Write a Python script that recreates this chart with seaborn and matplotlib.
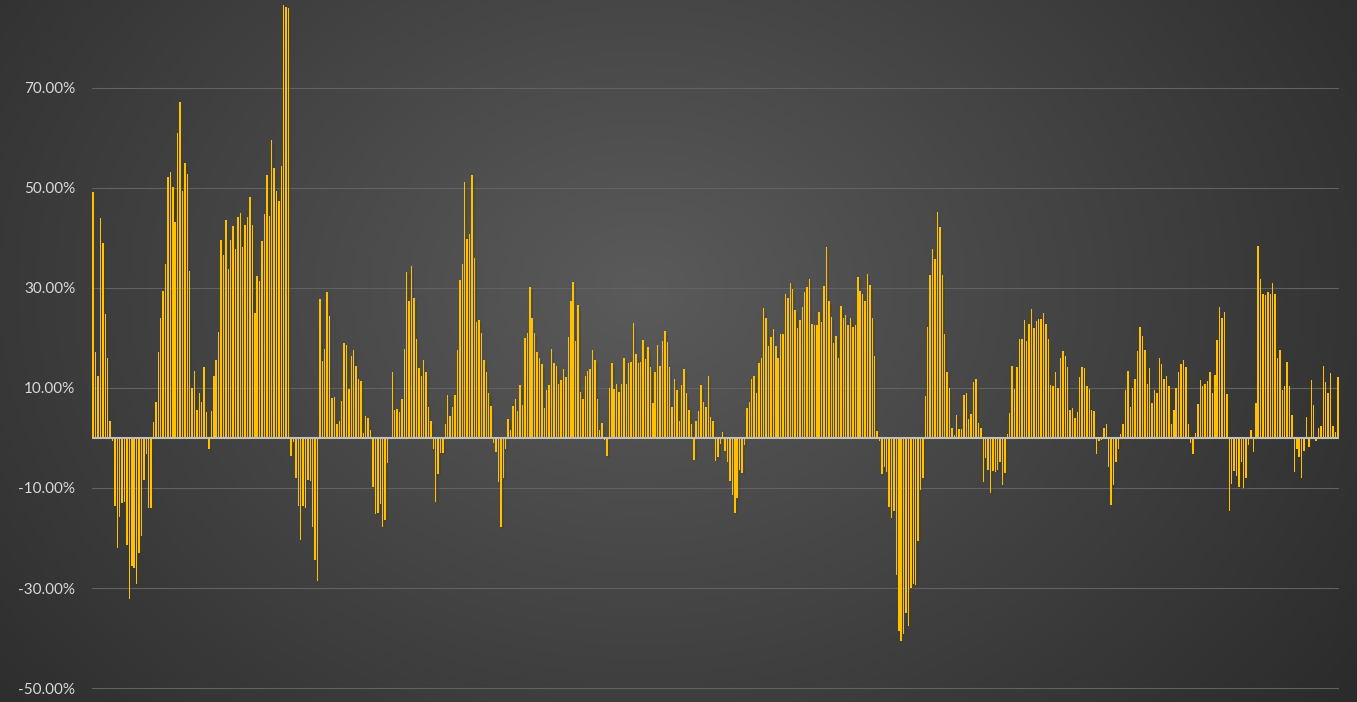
import numpy as np
import pandas as pd
import matplotlib
matplotlib.use("Agg")
import matplotlib.pyplot as plt
import matplotlib.patheffects as pe
import seaborn as sns

# ---------------------------------------------------------------
# Data: period-over-period change (%) left to right
# ---------------------------------------------------------------
seg_1 = [49.1, 17.1, 12.4, 43.9, 39.0, 24.7, 15.9, 3.4, -0.7, -13.7, -21.9, -15.7, -13.1, -12.8,
         -21.4, -32.2, -25.6, -25.9, -29.1, -22.9, -19.5, -8.4, -3.3, -14.1, -14.1, 3.2, 7.2, 17.1,
         23.9, 29.4, 34.8, 52.1, 53.1, 50.1, 43.2, 60.9, 67.2, 49.3, 54.9, 52.7, 33.3, 10.0]
seg_2 = [13.4, 5.6, 9.0, 7.2, 14.2, 5.2, -2.3, 5.4, 12.3, 15.5, 21.1, 39.6, 36.6, 43.6, 33.8,
         39.6, 42.3, 37.8, 44.2, 45.0, 38.2, 42.6, 44.1, 48.1, 42.6, 25.0, 32.3, 31.4, 39.4, 44.7,
         52.5, 44.4, 59.5, 53.9, 49.3, 47.3, 54.3, 86.5, 86.1, 85.9, -3.6, -0.9, -8.0]
seg_3 = [-13.6, -20.3, -13.6, -14.1, -8.4, -8.6, -17.8, -24.3, -28.5, 27.7, 15.3, 17.8, 29.2, 24.3,
         8.0, 8.2, 2.8, 3.4, 7.4, 18.9, 18.5, 9.8, 16.3, 17.5, 14.4, 11.8, 11.4, 1.0, 4.4, 4.0, 1.6,
         -9.8, -15.2, -14.9, -13.2, -17.7, -16.4, -5.0, 0.1, 13.1, 5.6, 5.8, 5.2, 7.7]
seg_4 = [17.8, 33.2, 27.3, 34.4, 27.9, 19.7, 13.9, 12.3, 15.5, 13.1, 6.2, 3.4, -2.3, -12.8, -7.2,
         -3.0, -3.0, 2.8, 8.6, 4.4, 6.2, 8.6, 17.5, 31.5, 34.8, 51.1, 39.8, 40.8, 52.5, 35.9, 23.2,
         23.5, 20.9, 15.5, 13.1, 9.0, 6.4, -1.0, -2.8, -8.8, -17.7, -8.0, -2.3]
seg_5 = [3.8, 1.6, 6.4, 7.8, 5.4, 10.5, 6.6, 19.9, 20.9, 30.2, 23.9, 20.9, 17.1, 16.0, 14.7, 6.0,
         9.6, 10.6, 17.7, 14.9, 14.4, 10.8, 11.6, 13.7, 12.1, 20.1, 27.3, 31.2, 19.3, 26.6, 9.2,
         7.8, 12.3, 13.4, 13.7, 17.5, 15.5, 7.8, 1.6, 3.0, -0.4, -3.6, 10.0, 15.0]
seg_6 = [9.8, 10.8, 9.2, 10.8, 16.0, 10.8, 15.0, 15.2, 22.9, 16.7, 14.9, 15.2, 19.5, 15.7, 18.1,
         14.2, 7.0, 13.1, 18.5, 14.4, 19.3, 21.3, 19.1, 14.1, 6.2, 11.8, 9.6, 3.4, 10.5, 13.7, 9.0,
         5.6, 2.8, -4.4, 3.4, 5.4, 10.5, 7.2, 6.2, 12.4, 4.2, 3.4, -4.6]
seg_7 = [-3.8, -1.2, 1.2, -2.6, -4.8, -8.6, -11.4, -14.9, -12.0, -6.4, -7.0, -1.5, 5.9, 7.2, 11.8,
         12.4, 9.0, 15.0, 16.0, 25.9, 23.9, 18.3, 20.1, 21.7, 18.3, 16.0, 20.7, 20.7, 28.7, 27.9,
         31.0, 29.7, 25.5, 21.9, 23.5, 26.1, 29.2, 30.2, 31.8, 22.7, 22.5, 22.5, 25.1, 23.2]
seg_8 = [30.4, 38.2, 27.3, 24.1, 18.9, 20.3, 16.0, 26.3, 23.9, 24.5, 22.5, 23.9, 22.1, 22.5, 32.2,
         29.4, 28.7, 27.3, 32.8, 30.5, 23.9, 16.3, 1.4, -0.7, -7.2, -5.8, -6.8, -13.9, -16.0, -14.7,
         -27.3, -38.6, -40.5, -39.2, -35.0, -37.6, -29.9, -29.1, -29.3, -20.5, -10.4, -8.0, 8.4, 22.1]
seg_9 = [32.6, 37.8, 35.8, 45.2, 42.1, 32.6, 20.7, 13.1, 10.0, 2.0, 0.5, 4.6, 1.8, 1.8, 8.6, 9.0,
         3.8, 4.8, 11.1, 11.8, 3.0, 2.0, -8.8, -4.0, -6.4, -11.0, -6.6, -6.8, -6.4, -4.8, -9.4,
         -7.0, 0.8, 5.0, 14.4, 9.8, 14.2, 19.7, 19.7, 23.5, 19.3, 22.7, 25.8]
seg_10 = [21.9, 23.3, 23.7, 23.7, 25.0, 22.7, 19.7, 10.6, 10.3, 13.1, 10.0, 16.0, 17.3, 16.3, 14.2,
          5.6, 6.0, 4.0, 5.2, 12.1, 14.2, 13.9, 10.3, 9.8, 5.6, 5.4, -3.2, -0.7, -0.5, 2.0, 2.8,
          -5.8, -13.4, -9.4, -4.8, -2.2, 0.8, 2.8, 9.6, 13.4, 6.2, 10.0, 11.8, 17.3]
seg_11 = [22.1, 20.3, 17.5, 10.8, 13.9, 7.0, 9.5, 9.0, 15.9, 14.7, 11.8, 12.4, 10.3, 2.8, 5.6,
          10.0, 13.2, 14.7, 15.5, 14.1, 2.8, -1.0, -3.2, 1.0, 6.8, 11.6, 10.3, 10.8, 11.4, 13.2,
          9.0, 12.6, 19.5, 26.1, 23.9, 25.1, 8.8, -14.6, -9.2, -6.6, -7.6, -9.8, -4.8]
seg_12 = [-10.0, -8.0, -1.5, 1.6, -2.8, 7.0, 38.4, 31.8, 28.7, 28.6, 29.2, 28.7, 31.0, 28.7, 16.0,
          17.5, 9.6, 10.3, 15.2, 10.3, 4.6, -6.8, -2.3, -3.8, -8.0, -2.6, 4.2, -1.8, 11.6, 6.6,
          -0.6, 2.0, 2.4, 14.4, 11.1, 9.0, 12.9, 2.4, 1.2, 12.1]

values = (seg_1 + seg_2 + seg_3 + seg_4 + seg_5 + seg_6 + seg_7 + seg_8
          + seg_9 + seg_10 + seg_11 + seg_12)
periods = list(range(len(values)))

y_ticks = [-50, -30, -10, 10, 30, 50, 70]
y_tick_labels = [f"{t:.2f}%" for t in y_ticks]

df = pd.DataFrame({"period": periods, "change": values})

# ---------------------------------------------------------------
# Plot
# ---------------------------------------------------------------
sns.set_theme(style="dark")
plt.rcParams["font.family"] = ["Lato", "DejaVu Sans"]

W, H = 1357, 702
fig = plt.figure(figsize=(W / 100, H / 100), dpi=100)

# radial dark-grey background, lighter in the middle
bg = fig.add_axes([0, 0, 1, 1], zorder=0)
yy, xx = np.mgrid[0:H, 0:W]
r = np.sqrt(((xx - 640) / 900.0) ** 2 + ((yy - 290) / 700.0) ** 2)
shade = np.clip(0.355 - 0.19 * r, 0.17, 1.0)
bg.imshow(np.dstack([shade] * 3), aspect="auto", interpolation="bilinear")
bg.axis("off")

ax = fig.add_axes([92 / W, 0, 1247 / W, 1], zorder=1)
ax.set_facecolor("none")

sns.barplot(data=df, x="period", y="change", color="#FFC000", saturation=1,
            width=0.6, errorbar=None, ax=ax)

for bar in ax.patches:
    bar.set_linewidth(0)
    bar.set_path_effects([pe.SimplePatchShadow(offset=(1.5, -1.5), alpha=0.3),
                          pe.Normal()])

ax.set_xlim(-0.5, len(values) - 0.5)
ax.set_ylim(-52.8, 87.6)
ax.set_xticks([])
ax.set_yticks(y_ticks)
ax.set_yticklabels(y_tick_labels, color="#d9d9d9", fontsize=11)
ax.tick_params(axis="y", length=0, pad=12)
ax.set_xlabel("")
ax.set_ylabel("")

ax.set_axisbelow(True)
ax.grid(axis="y", color="#626262", linewidth=0.8)
ax.grid(axis="x", visible=False)
ax.axhline(0, color="#c0c0c0", linewidth=1.5, zorder=3)
for side in ["top", "right", "bottom", "left"]:
    ax.spines[side].set_visible(False)

fig.savefig("out.png", dpi=100)
